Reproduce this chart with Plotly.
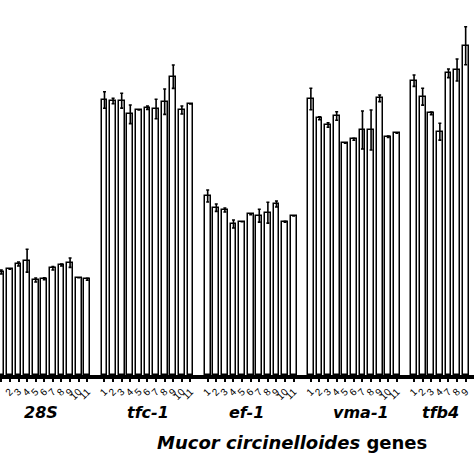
import plotly.graph_objects as go

# Data (arbitrary relative units)
genes = ["28S", "tfc-1", "ef-1", "vma-1", "tfb4"]
labels_28S = ["1", "2", "3", "4", "5", "6", "7", "8", "9", "10", "11"]
labels_tfc1 = ["1", "2", "3", "4", "5", "6", "7", "8", "9", "10", "11"]
labels_ef1 = ["1", "2", "3", "4", "5", "6", "7", "8", "9", "10", "11"]
labels_vma1 = ["1", "2", "3", "4", "5", "6", "7", "8", "9", "10", "11"]
labels_tfb4 = ["1", "2", "3", "4", "7", "8", "9"]

val_28S = [1.03, 1.057, 1.11, 1.143, 0.95, 0.963, 1.067, 1.10, 1.123, 0.973, 0.957]
err_28S = [0.02, 0.0, 0.02, 0.114, 0.02, 0.01, 0.017, 0.01, 0.047, 0.0, 0.01]
val_tfc1 = [2.75, 2.74, 2.743, 2.607, 2.65, 2.673, 2.66, 2.733, 2.983, 2.65, 2.71]
err_tfc1 = [0.083, 0.027, 0.074, 0.093, 0.0, 0.017, 0.097, 0.127, 0.117, 0.04, 0.0]
val_ef1 = [1.79, 1.673, 1.65, 1.51, 1.533, 1.607, 1.593, 1.623, 1.71, 1.533, 1.59]
err_ef1 = [0.06, 0.037, 0.02, 0.04, 0.0, 0.005, 0.064, 0.104, 0.03, 0.005, 0.0]
val_vma1 = [2.76, 2.567, 2.50, 2.59, 2.317, 2.357, 2.45, 2.45, 2.767, 2.383, 2.417]
err_vma1 = [0.107, 0.015, 0.023, 0.043, 0.0, 0.01, 0.19, 0.20, 0.033, 0.007, 0.0]
val_tfb4 = [2.943, 2.783, 2.617, 2.433, 3.017, 3.05, 3.293]
err_tfb4 = [0.057, 0.084, 0.013, 0.084, 0.043, 0.11, 0.19]

groups = [
    (labels_28S, val_28S, err_28S),
    (labels_tfc1, val_tfc1, err_tfc1),
    (labels_ef1, val_ef1, err_ef1),
    (labels_vma1, val_vma1, err_vma1),
    (labels_tfb4, val_tfb4, err_tfb4),
]
GROUP_PERIOD = 12

xs, ys, es, tt = [], [], [], []
for g, (labs, vals, errs) in enumerate(groups):
    for i, (lab, v, e) in enumerate(zip(labs, vals, errs)):
        xs.append(g * GROUP_PERIOD + i)
        ys.append(v)
        es.append(e)
        tt.append(lab)

fig = go.Figure()
fig.add_trace(go.Bar(
    x=xs, y=ys, width=0.68,
    marker=dict(color="white", line=dict(color="black", width=1.5)),
    error_y=dict(type="data", array=es, visible=True, color="black",
                 thickness=1.6, width=1.5),
    showlegend=False,
))

FONT = "DejaVu Sans, Liberation Sans, Arial"
label_x = [4.6, 17.05, 28.5, 41.8, 51.1]
annotations = []
for gx, name in zip(label_x, genes):
    annotations.append(dict(
        x=gx, y=-0.101, xref="x", yref="paper", showarrow=False,
        text="<b><i>%s</i></b>" % name, xanchor="center", yanchor="middle",
        font=dict(family=FONT, size=16, color="black")))
annotations.append(dict(
    x=33.8, y=-0.181, xref="x", yref="paper", showarrow=False,
    text="<b><i>Mucor circinelloides</i> genes</b>", xanchor="center", yanchor="middle",
    font=dict(family=FONT, size=18, color="black")))

fig.update_layout(
    width=474, height=474,
    margin=dict(l=0, r=0, t=0, b=99, pad=0),
    paper_bgcolor="white", plot_bgcolor="white",
    bargap=0,
    annotations=annotations,
    xaxis=dict(
        range=[-0.151, 54.97], tickmode="array", tickvals=xs, ticktext=tt,
        tickangle=-45, ticks="outside", ticklen=3, tickwidth=2, tickcolor="black",
        tickfont=dict(family="Liberation Sans, Arial", size=10, color="black"),
        showline=True, linewidth=4, linecolor="black", showgrid=False, zeroline=False,
    ),
    yaxis=dict(range=[0, 3.75], visible=False, showgrid=False, zeroline=False),
)

fig.write_html("out.html")
